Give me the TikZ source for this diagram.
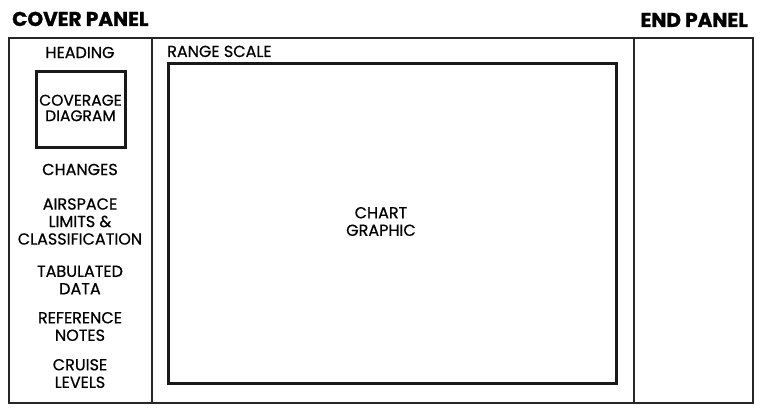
\documentclass[tikz,border=0pt]{standalone}
\usepackage{fontspec}
\setmainfont{Poppins}[FakeBold=0.6]
\newfontfamily\titlefont{Poppins}[FakeBold=1.2]
\begin{document}
\begin{tikzpicture}[x=1pt,y=-1pt,
  frame/.style={draw=black!85,line width=1.5pt},
  heavy/.style={draw=black!90,line width=3pt},
  lbl/.style={inner sep=0pt,font=\fontsize{16}{17.5}\selectfont,align=center},
  title/.style={inner sep=0pt,font=\fontsize{20}{22}\titlefont\bfseries}]
\useasboundingbox (0,0) rectangle (775,417);
% panels
\draw[frame] (9,38) rectangle (753,403);
\draw[frame] (152,38) -- (152,403);
\draw[frame] (634,38) -- (634,403);
% boxes
\node[heavy,minimum width=89pt,minimum height=75pt,inner sep=0pt] (cov) at (81,109.5) {};
\node[heavy,minimum width=448pt,minimum height=320pt,inner sep=0pt] (chart) at (392.5,223.5) {};
% titles
\node[title,anchor=base west] (cp) at (12,26) {COVER PANEL};
\node[title,anchor=base east] (ep) at (748,27) {END PANEL};
% left column
\node[lbl] (head) at (80,52.5) {HEADING};
\node[lbl,font=\fontsize{15.5}{15.5}\selectfont] (covt) at (80.5,108) {COVERAGE\\DIAGRAM};
\node[lbl] (chg) at (80,169.5) {CHANGES};
\node[lbl] (air) at (80,221.5) {AIRSPACE\\LIMITS \&\\CLASSIFICATION};
\node[lbl] (tab) at (80,280) {TABULATED\\DATA};
\node[lbl] (ref) at (80,326.5) {REFERENCE\\NOTES};
\node[lbl] (cru) at (80,373.5) {CRUISE\\LEVELS};
% chart
\node[lbl,anchor=base west] (rs) at (167,57) {RANGE SCALE};
\node[lbl] (cg) at (381,221.5) {CHART\\GRAPHIC};
\end{tikzpicture}
\end{document}
